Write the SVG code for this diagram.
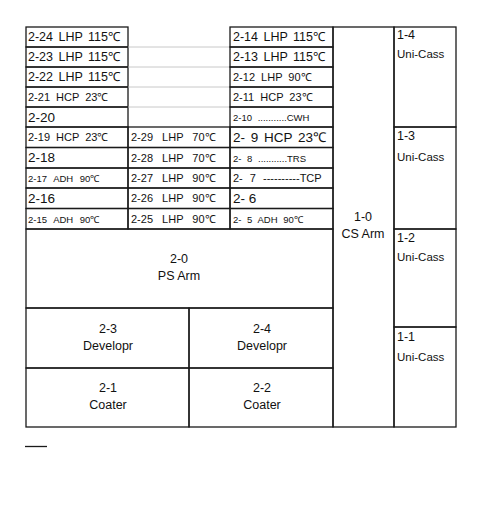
<svg xmlns="http://www.w3.org/2000/svg" width="486" height="525" viewBox="0 0 486 525">
<style>
rect.c{fill:none;stroke:#1a1a1a;stroke-width:1.3}
line.g{stroke:#c8c8c8;stroke-width:1}
line.k{stroke:#1a1a1a;stroke-width:1.3}
text{font-family:"Liberation Sans",Arial,sans-serif;fill:#111}
.l{font-size:12.5px}
.m{font-size:11px}
.u{font-size:11.5px}
.s{font-size:9.5px}
.b{font-size:13.5px}
.ctr{text-anchor:middle;font-size:12.5px}
</style>
<rect width="486" height="525" fill="#fff"/>
<g id="connectors"></g>
<g id="n2-24"><rect class="c" x="26" y="27" width="102" height="20"/><text class="l" x="28" y="41" word-spacing="2">2-24 LHP 115℃</text></g>
<g id="n2-23"><rect class="c" x="26" y="47" width="102" height="20"/><text class="l" x="28" y="61" word-spacing="2">2-23 LHP 115℃</text></g>
<g id="n2-22"><rect class="c" x="26" y="67" width="102" height="20"/><text class="l" x="28" y="81" word-spacing="2">2-22 LHP 115℃</text></g>
<g id="n2-21"><rect class="c" x="26" y="87" width="102" height="20"/><text class="m" x="28" y="101" word-spacing="3">2-21 HCP 23℃</text></g>
<g id="n2-20"><rect class="c" x="26" y="107" width="102" height="20"/><text class="b" x="28" y="122">2-20</text></g>
<g id="n2-19"><rect class="c" x="26" y="127" width="102" height="20.5"/><text class="m" x="28" y="141" word-spacing="3">2-19 HCP 23℃</text></g>
<g id="n2-18"><rect class="c" x="26" y="147.5" width="102" height="20.5"/><text class="b" x="28" y="162">2-18</text></g>
<g id="n2-17"><rect class="c" x="26" y="168" width="102" height="20"/><text class="s" x="28" y="181.5" word-spacing="4">2-17 ADH 90℃</text></g>
<g id="n2-16"><rect class="c" x="26" y="188" width="102" height="20.5"/><text class="b" x="28" y="203">2-16</text></g>
<g id="n2-15"><rect class="c" x="26" y="208.5" width="102" height="20.5"/><text class="s" x="28" y="222.5" word-spacing="4">2-15 ADH 90℃</text></g>
<g id="blank">
<line class="g" x1="128" y1="47" x2="230" y2="47"/>
<line class="g" x1="128" y1="67" x2="230" y2="67"/>
<line class="g" x1="128" y1="87" x2="230" y2="87"/>
<line class="g" x1="128" y1="107" x2="230" y2="107"/>
</g>
<g id="n2-29"><rect class="c" x="128" y="127" width="102" height="20.5"/><text class="m" x="131" y="141" word-spacing="6">2-29 LHP 70℃</text></g>
<g id="n2-28"><rect class="c" x="128" y="147.5" width="102" height="20.5"/><text class="m" x="131" y="162" word-spacing="6">2-28 LHP 70℃</text></g>
<g id="n2-27"><rect class="c" x="128" y="168" width="102" height="20"/><text class="m" x="131" y="182" word-spacing="6">2-27 LHP 90℃</text></g>
<g id="n2-26"><rect class="c" x="128" y="188" width="102" height="20.5"/><text class="m" x="131" y="202" word-spacing="6">2-26 LHP 90℃</text></g>
<g id="n2-25"><rect class="c" x="128" y="208.5" width="102" height="20.5"/><text class="m" x="131" y="223" word-spacing="6">2-25 LHP 90℃</text></g>
<g id="n2-14"><rect class="c" x="230" y="27" width="103" height="20"/><text class="l" x="233" y="41" word-spacing="2">2-14 LHP 115℃</text></g>
<g id="n2-13"><rect class="c" x="230" y="47" width="103" height="20"/><text class="l" x="233" y="61" word-spacing="2">2-13 LHP 115℃</text></g>
<g id="n2-12"><rect class="c" x="230" y="67" width="103" height="20"/><text class="m" x="233" y="81" word-spacing="3">2-12 LHP 90℃</text></g>
<g id="n2-11"><rect class="c" x="230" y="87" width="103" height="20"/><text class="m" x="233" y="101" word-spacing="3">2-11 HCP 23℃</text></g>
<g id="n2-10"><rect class="c" x="230" y="107" width="103" height="20"/><text class="s" x="233" y="121" word-spacing="3">2-10 ...........CWH</text></g>
<g id="n2-9"><rect class="c" x="230" y="127" width="103" height="20.5"/><text class="b" x="233" y="142" word-spacing="2">2- 9 HCP 23℃</text></g>
<g id="n2-8"><rect class="c" x="230" y="147.5" width="103" height="20.5"/><text class="s" x="233" y="161.5" word-spacing="3">2- 8 ...........TRS</text></g>
<g id="n2-7"><rect class="c" x="230" y="168" width="103" height="20"/><text class="m" x="233" y="182" word-spacing="4">2- 7 ----------TCP</text></g>
<g id="n2-6"><rect class="c" x="230" y="188" width="103" height="20.5"/><text class="b" x="233" y="203">2- 6</text></g>
<g id="n2-5"><rect class="c" x="230" y="208.5" width="103" height="20.5"/><text class="s" x="233" y="222.5" word-spacing="3">2- 5 ADH 90℃</text></g>
<g id="n1-0"><rect class="c" x="333" y="27" width="61" height="400"/><text class="ctr" x="363" y="221">1-0</text><text class="ctr" x="363" y="238">CS Arm</text></g>
<g id="n1-4"><rect class="c" x="394" y="27" width="62" height="100"/><text class="l" x="397" y="39">1-4</text><text class="u" x="397" y="58">Uni-Cass</text></g>
<g id="n1-3"><rect class="c" x="394" y="127" width="62" height="102"/><text class="l" x="397" y="140">1-3</text><text class="u" x="397" y="161">Uni-Cass</text></g>
<g id="n1-2"><rect class="c" x="394" y="229" width="62" height="98"/><text class="l" x="397" y="242">1-2</text><text class="u" x="397" y="261">Uni-Cass</text></g>
<g id="n1-1"><rect class="c" x="394" y="327" width="62" height="100"/><text class="l" x="397" y="341">1-1</text><text class="u" x="397" y="361">Uni-Cass</text></g>
<g id="n2-0"><rect class="c" x="26" y="229" width="307" height="79"/><text class="ctr" x="179" y="263">2-0</text><text class="ctr" x="179" y="280">PS Arm</text></g>
<g id="n2-3"><rect class="c" x="26" y="308" width="163" height="60"/><text class="ctr" x="108" y="333">2-3</text><text class="ctr" x="108" y="350">Developr</text></g>
<g id="n2-4"><rect class="c" x="189" y="308" width="144" height="60"/><text class="ctr" x="262" y="333">2-4</text><text class="ctr" x="262" y="350">Developr</text></g>
<g id="n2-1"><rect class="c" x="26" y="368" width="163" height="59"/><text class="ctr" x="108" y="392">2-1</text><text class="ctr" x="108" y="409">Coater</text></g>
<g id="n2-2"><rect class="c" x="189" y="368" width="144" height="59"/><text class="ctr" x="262" y="392">2-2</text><text class="ctr" x="262" y="409">Coater</text></g>
<line class="k" x1="25" y1="446.5" x2="47" y2="446.5"/>
</svg>
